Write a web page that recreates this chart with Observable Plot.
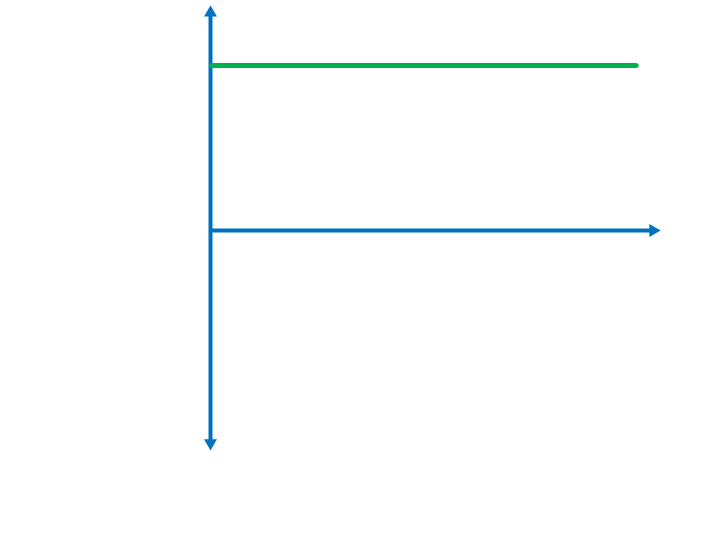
<!DOCTYPE html>
<html>
<head>
<meta charset="utf-8">
<script src="https://cdn.jsdelivr.net/npm/d3@7"></script>
<script src="https://cdn.jsdelivr.net/npm/@observablehq/plot@0.6"></script>
<style>
  html, body { margin: 0; padding: 0; background: #ffffff; }
</style>
</head>
<body>
<div id="chart"></div>
<script>
// Axis extents (data units)
const xAxisExtent = [0, 1];
const yAxisExtent = [1.364, -1.333];
// Constant function y = c over an x interval
const constantValue = [1];
const constantXExtent = [0.004, 0.947];

const blue = "#0070c0";
const green = "#00b050";

const arrowTips = [
  {x: xAxisExtent[1], y: 0, rotate: 90, dx: -7.4, dy: 0},
  {x: 0, y: yAxisExtent[0], rotate: 0, dx: 0, dy: 7.4},
  {x: 0, y: yAxisExtent[1], rotate: 180, dx: 0, dy: -7.4}
];

const chart = Plot.plot({
  width: 720,
  height: 540,
  margin: 0,
  style: {background: "#ffffff"},
  x: {domain: [0, 1], range: [210, 660], axis: null},
  y: {domain: [0, 1], range: [230, 65], axis: null},
  marks: [
    Plot.ruleY([0], {x1: xAxisExtent[0], x2: xAxisExtent[1], stroke: blue, strokeWidth: 4, insetRight: 9}),
    Plot.ruleX([0], {y1: yAxisExtent[0], y2: yAxisExtent[1], stroke: blue, strokeWidth: 4, insetTop: 9, insetBottom: 9}),
    Plot.ruleY(constantValue, {x1: constantXExtent[0], x2: constantXExtent[1], stroke: green, strokeWidth: 5, strokeLinecap: "round"}),
    ...arrowTips.map(t => Plot.dot([t], {x: "x", y: "y", symbol: "triangle", r: 4.8, fill: blue, stroke: "none", rotate: t.rotate, dx: t.dx, dy: t.dy}))
  ]
});
document.getElementById("chart").appendChild(chart);
</script>
</body>
</html>
